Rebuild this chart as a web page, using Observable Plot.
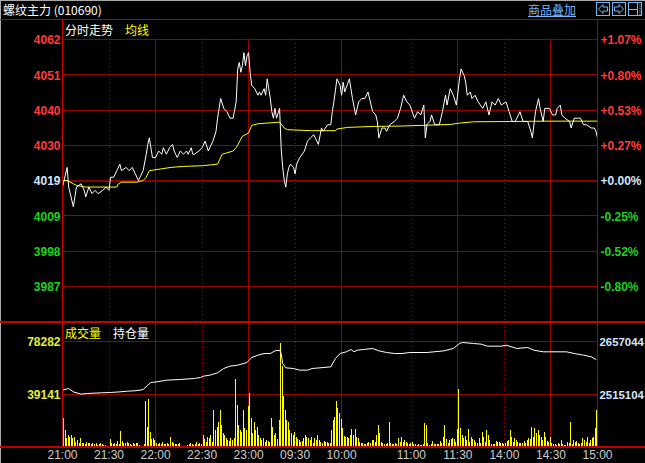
<!DOCTYPE html>
<html>
<head>
<meta charset="utf-8">
<script src="https://cdn.jsdelivr.net/npm/d3@7"></script>
<script src="https://cdn.jsdelivr.net/npm/@observablehq/plot@0.6"></script>
<style>
html,body{margin:0;padding:0;background:#000;width:645px;height:463px;overflow:hidden;}
#wrap{position:relative;width:645px;height:463px;background:#000;overflow:hidden;font-family:"Liberation Sans",Arial,sans-serif;}
.abs{position:absolute;}
.chart{position:absolute;left:0;width:645px;}
.chart svg{display:block;max-width:none;}
.cjk{position:absolute;font-family:"Noto Sans CJK SC","Noto Sans",sans-serif;font-size:12px;line-height:14px;white-space:nowrap;}
.ln{position:absolute;}
.btn{position:absolute;top:2px;width:14px;height:14px;border:1px solid #78b6f2;box-sizing:border-box;}
</style>
</head>
<body>
<div id="wrap">
  <div class="chart" id="priceChart" style="top:0;"></div>
  <div class="chart" id="volChart" style="top:322px;"></div>
  <div class="chart" id="oiChart" style="top:322px;"></div>

  <!-- frame lines -->
  <div class="ln" style="left:0;top:0;width:645px;height:1px;background:#a8a8a8;"></div>
  <div class="ln" style="left:0;top:0;width:1px;height:463px;background:#a8a8a8;"></div>
  <div class="ln" style="left:0;top:19px;width:645px;height:1px;background:#b40000;"></div>
  <div class="ln" style="left:62px;top:19px;width:1px;height:428px;background:#c80000;"></div>
  <div class="ln" style="left:597px;top:19px;width:1px;height:428px;background:#b40000;"></div>
  <div class="ln" style="left:0;top:321px;width:645px;height:2px;background:#c80000;"></div>
  <div class="ln" style="left:0;top:446px;width:645px;height:2px;background:#c00000;"></div>

  <!-- header texts -->
  <div class="cjk" style="left:3px;top:3px;color:#ffffff;">螺纹主力 (010690)</div>
  <div class="cjk" style="left:528px;top:3px;color:#78b6f2;text-decoration:underline;">商品叠加</div>
  <div class="btn" style="left:596px;"><svg width="12" height="12" style="display:block"><polygon points="1.5,6 6,1.5 6,4 10.5,4 10.5,8 6,8 6,10.5" fill="none" stroke="#78b6f2"/></svg></div>
  <div class="btn" style="left:612px;"><svg width="12" height="12" style="display:block"><polygon points="10.5,6 6,1.5 6,4 1.5,4 1.5,8 6,8 6,10.5" fill="none" stroke="#78b6f2"/></svg></div>
  <div class="btn" style="left:628px;"><svg width="12" height="12" style="display:block"><line x1="0" y1="6.5" x2="8" y2="6.5" stroke="#78b6f2"/><line x1="8.5" y1="0" x2="8.5" y2="12" stroke="#78b6f2"/><line x1="11" y1="1" x2="11" y2="12" stroke="#78b6f2" stroke-dasharray="1,1"/></svg></div>

  <div class="cjk" style="left:65px;top:23px;color:#ffffff;">分时走势</div>
  <div class="cjk" style="left:125px;top:23px;color:#ffff00;">均线</div>
  <div class="cjk" style="left:65px;top:326px;color:#ffff00;">成交量</div>
  <div class="cjk" style="left:113px;top:326px;color:#ffffff;">持仓量</div>
</div>
<script>
// ---------- time axis (minute index of the trading day) ----------
const timeTicks  = [0, 30, 60, 90, 120, 150, 180, 225, 255, 285, 315, 345];
const timeLabels = ["21:00","21:30","22:00","22:30","23:00","09:30","10:00","11:00","11:30","14:00","14:30","15:00"];
const gridSolid  = [60, 120, 180, 255, 315];
const gridDotted = [30, 90, 150, 225, 285];

// ---------- price panel ----------
const priceTicks  = [4062, 4051.25, 4040.5, 4029.75, 4019, 4008.25, 3997.5, 3986.75];
const priceLabels = ["4062","4051","4040","4030","4019","4009","3998","3987"];
const pctLabels   = ["+1.07%","+0.80%","+0.53%","+0.27%","+0.00%","-0.25%","-0.52%","-0.80%"];
const basePrice = 4019;

const priceMinutes = [0,3,4,7,9,12,14,15,17,19,21,23,26,28,30,31,33,35,37,38,41,43,45,47,49,50,52,54,55,56,57,58,60,62,64,65,67,69,71,72,74,76,78,80,81,83,84,85,88,90,92,94,97,99,100,102,104,106,108,110,112,113,114,115,116,117,118,119,120,121,122,124,126,127,128,130,131,132,133,134,135,136,137,138,140,141,142,143,144,145,146,147,149,150,151,153,156,158,160,162,163,165,167,168,171,173,174,175,177,179,180,181,182,185,186,187,189,191,193,195,197,200,202,203,204,206,208,209,211,214,216,218,220,222,224,227,229,231,233,234,235,237,238,240,243,245,247,248,250,252,254,256,257,259,260,261,263,264,266,268,271,273,275,277,279,281,283,286,288,290,292,295,297,300,302,303,305,307,308,310,311,314,316,318,319,321,322,324,327,328,330,332,334,336,338,341,343,344,345];
const priceValues = [4017,4023,4017,4011,4017,4018,4016,4014,4017,4015,4016,4015,4016,4017,4016,4020,4020,4022,4024,4022,4023,4022,4023,4021,4019,4020,4022,4027,4030,4032,4029,4026,4026,4028,4027,4029,4027,4029,4030,4028,4026,4028,4027,4028,4027,4029,4027,4027,4028,4029,4031,4028,4031,4034,4038,4044,4041,4040,4038,4038,4043,4053,4055,4052,4054,4058,4054,4057,4058,4052,4048,4047,4045,4046,4045,4047,4045,4050,4047,4044,4040,4038,4041,4038,4041,4029,4023,4019,4017,4021,4023,4024,4023,4021,4024,4026,4028,4031,4032,4033,4032,4030,4035,4034,4036,4036,4040,4043,4050,4048,4045,4049,4046,4050,4047,4044,4039,4043,4044,4044,4046,4040,4039,4037,4032,4035,4035,4034,4036,4037,4038,4041,4045,4043,4042,4038,4040,4039,4042,4032,4036,4037,4039,4036,4036,4040,4045,4042,4047,4045,4042,4050,4053,4051,4049,4045,4046,4044,4045,4043,4041,4043,4039,4043,4042,4044,4042,4043,4040,4037,4037,4040,4037,4037,4034,4032,4040,4044,4041,4037,4041,4041,4039,4039,4041,4042,4039,4038,4037,4035,4038,4038,4038,4036,4036,4035,4035,4034,4032];

const avgMinutes = [0,3,9,15,35,36,38,48,52,54,56,70,78,90,96,100,103,110,112,116,120,122,126,140,143,145,160,176,177,184,201,218,250,256,265,313,345];
const avgValues  = [4019,4019,4017.5,4017,4017,4018,4018.5,4018.5,4019,4020,4022,4023,4023.3,4023.5,4023.8,4024,4027,4028,4029,4032.5,4033.5,4035.8,4036.3,4036.8,4035,4034.5,4034.2,4034.2,4034.7,4035.2,4035.5,4035.6,4036.1,4036.5,4036.9,4037.1,4037.1];

// ---------- volume / open interest panel ----------
const volTicks  = [78282, 39141];
const volLabels = ["78282","39141"];
const oiTicks   = [2657044, 2515104];
const oiLabels  = ["2657044","2515104"];

const volumeValues = [
21300,12600,6400,8900,7700,8900,6400,7700,4000,5200,
3200,6400,2700,3200,2200,4000,2700,2700,2200,2700,
2200,3200,1500,2200,2700,2200,1500,1500,700,700,
5700,2700,2200,2700,2200,4700,2200,11900,4700,3200,
2700,4000,3200,2200,1500,2700,2200,2700,2700,1500,
700,700,2200,34200,15100,35700,11400,5700,6400,5200,
3200,2200,2700,2200,4000,2200,2200,2700,2200,7200,
4000,2700,2200,2200,2200,2700,700,700,700,1000,
1500,2200,2700,2200,1700,2200,4000,2200,2700,2200,
8900,5900,4000,7700,6400,8900,4000,27500,12600,15100,
18800,27500,16400,10200,8900,6400,5200,4700,6400,5200,
6400,50300,31200,16400,12600,11400,27500,13900,12600,30500,
39900,21300,10000,18800,12600,15100,8900,6400,5200,6400,
4000,5200,4700,4000,21300,15100,8900,10200,6000,20100,
76500,59700,37400,27500,20100,18800,12600,10200,8900,11400,
7700,6000,5200,4000,4700,6400,8900,7700,6400,5200,
7700,3200,6400,5200,8900,5200,4000,3200,4700,4000,
4000,2700,3200,12600,20100,22500,34200,28700,25000,20600,
13900,8200,7700,7700,6400,8900,13100,8900,13100,7700,
6400,4000,3200,2700,2200,2200,3200,4000,2700,5200,
5200,4000,8900,16300,10200,4000,2700,2500,2200,3200,
18300,3200,2200,2200,3200,2200,6400,4000,7200,4000,
5200,4000,2700,2200,3200,4000,2200,2200,1500,2200,
1200,1500,2200,17600,16300,3200,1700,2200,4700,2200,
2200,2200,2200,4700,3200,7200,16300,5700,3200,5200,
5700,6400,5700,4000,13100,43100,13900,8900,6400,8200,
5200,13100,4000,7200,6200,5200,4000,3200,6400,3200,
11400,7700,4000,12600,8900,5200,2200,2200,2200,4700,
4000,3700,3200,2700,2200,3200,4700,5200,12600,7700,
4000,6400,5200,4000,3200,3000,2700,4700,3200,5200,
6400,5700,14600,7200,13900,10200,12600,8900,7200,5200,
11400,7700,4700,4000,7200,3200,2200,2200,1500,3200,
2200,5200,2200,1700,1200,4000,3200,18800,2200,5200,
4000,4700,3200,2200,3200,6400,5200,4000,7200,3200,
5200,6400,7700,14400,27500];

const oiMinutes = [0,4,7,12,16,25,31,37,42,46,50,52,55,57,61,67,76,85,89,91,95,100,104,108,113,119,120,122,126,130,134,137,140,141,142,144,149,153,158,161,166,173,176,179,183,186,188,190,194,200,204,209,214,219,224,235,246,252,256,258,265,270,274,283,286,293,300,304,310,325,330,336,341,344];
const oiValues  = [2526700,2531200,2522200,2516000,2517800,2519600,2520500,2522200,2524000,2524900,2526700,2528500,2540100,2547200,2549000,2553500,2555300,2558000,2560600,2564200,2566900,2573100,2584700,2591000,2593700,2600800,2605300,2614200,2620400,2624900,2624900,2632000,2633800,2624900,2598100,2586500,2584700,2580300,2580300,2584700,2586500,2589200,2611500,2624900,2629400,2635600,2629400,2633800,2635600,2638300,2632000,2627600,2624900,2624900,2627600,2627600,2632000,2638300,2651700,2654400,2651700,2649900,2644500,2644500,2647200,2638300,2641000,2633800,2629400,2629400,2624900,2620400,2616000,2608800];

// ---------- styles ----------
const gridColor = "#960000";
const dotColor = "#a00000";
const zeroColor = "#8a0000";
const upColor = "#ff3c3c", downColor = "#1ed21e", flatColor = "#d2e6ff";
const font = "'Liberation Sans', Arial, sans-serif";

const priceData = priceMinutes.map((m, i) => ({m, v: priceValues[i]}));
const avgData = avgMinutes.map((m, i) => ({m, v: avgValues[i]}));
const oiData = oiMinutes.map((m, i) => ({m, v: oiValues[i]}));
const tickColor = (d) => d > basePrice + 0.01 ? upColor : d < basePrice - 0.01 ? downColor : flatColor;

const common = {
  width: 645, marginLeft: 62, marginRight: 48,
  x: {domain: [0, 345], axis: null},
  color: {type: "identity"},
  style: {background: "transparent", overflow: "visible", fontFamily: font}
};

const pricePlot = Plot.plot({
  ...common,
  height: 322, marginTop: 39, marginBottom: 0,
  y: {domain: [3975.7, 4062], axis: null},
  marks: [
    Plot.ruleY(priceTicks.filter(d => d !== basePrice), {stroke: gridColor, shapeRendering: "crispEdges"}),
    Plot.ruleY([basePrice], {stroke: zeroColor, strokeWidth: 2, shapeRendering: "crispEdges"}),
    Plot.ruleX(gridSolid, {stroke: gridColor, shapeRendering: "crispEdges"}),
    Plot.ruleX(gridDotted, {stroke: dotColor, strokeDasharray: "1,3", shapeRendering: "crispEdges"}),
    Plot.line(avgData, {x: "m", y: "v", stroke: "#ffff00", strokeWidth: 1}),
    Plot.line(priceData, {x: "m", y: "v", stroke: "#ffffff", strokeWidth: 1}),
    Plot.text(priceTicks, {x: 0, y: d => d, text: (d, i) => priceLabels[i], textAnchor: "end", dx: -2, dy: 1,
      fill: tickColor, fontSize: 12, fontWeight: "bold"}),
    Plot.text(priceTicks, {x: 345, y: d => d, text: (d, i) => pctLabels[i], textAnchor: "start", dx: 3, dy: 1,
      fill: tickColor, fontSize: 12, fontWeight: "bold"})
  ]
});
document.getElementById("priceChart").appendChild(pricePlot);

const volPlot = Plot.plot({
  ...common,
  height: 141, marginTop: 19, marginBottom: 16,
  y: {domain: [0, volTicks[0]], axis: null},
  marks: [
    Plot.ruleY(volTicks, {stroke: gridColor, shapeRendering: "crispEdges"}),
    Plot.ruleX(gridSolid, {stroke: gridColor, insetTop: -19, shapeRendering: "crispEdges"}),
    Plot.ruleX(gridDotted, {stroke: dotColor, strokeDasharray: "1,3", insetTop: -19, shapeRendering: "crispEdges"}),
    Plot.ruleX(volumeValues, {x: (d, i) => i, y1: 0, y2: d => d, stroke: "#ffff00", strokeWidth: 1, dx: 1, shapeRendering: "crispEdges"}),
    Plot.text(volTicks, {x: 0, y: d => d, text: (d, i) => volLabels[i], textAnchor: "end", dx: -2, dy: 1,
      fill: "#e2ee3c", fontSize: 12, fontWeight: "bold"}),
    Plot.text(timeTicks, {x: d => d, frameAnchor: "bottom", dy: 8, text: (d, i) => timeLabels[i],
      fill: "#cccccc", fontSize: 12, lineAnchor: "middle"})
  ]
});
document.getElementById("volChart").appendChild(volPlot);

const oiPlot = Plot.plot({
  ...common,
  height: 141, marginTop: 19, marginBottom: 16,
  y: {domain: [2 * oiTicks[1] - oiTicks[0], oiTicks[0]], axis: null},
  marks: [
    Plot.line(oiData, {x: "m", y: "v", stroke: "#ffffff", strokeWidth: 1}),
    Plot.text(oiTicks, {x: 345, y: d => d, text: (d, i) => oiLabels[i], textAnchor: "start", dx: 2, dy: 1,
      fill: flatColor, fontSize: 11.4, fontWeight: "bold"})
  ]
});
document.getElementById("oiChart").appendChild(oiPlot);
</script>
</body>
</html>
